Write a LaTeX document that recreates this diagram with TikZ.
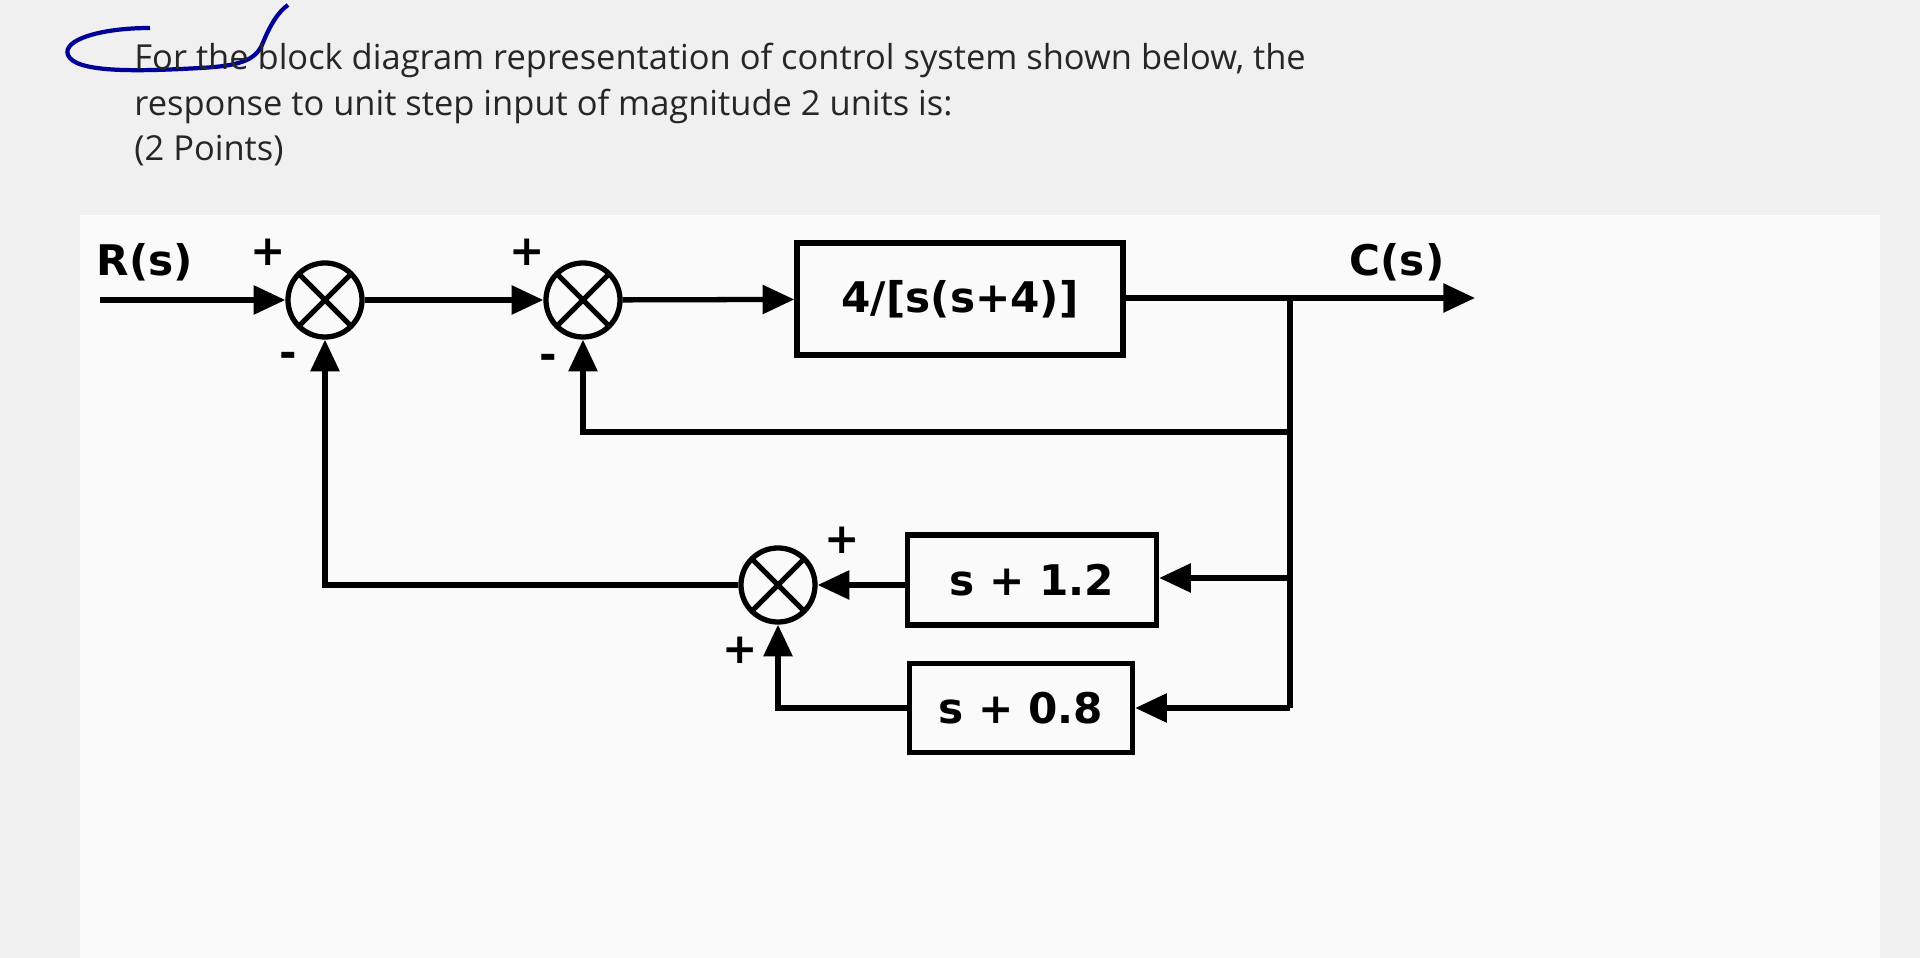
\documentclass[tikz,border=0pt]{standalone}
\usepackage{fontspec}
\setmainfont{Open Sans}
\newfontfamily\djfont{DejaVu Sans}
\usetikzlibrary{arrows.meta}
\begin{document}
\begin{tikzpicture}[x=0.01cm,y=-0.01cm,
  ln/.style={line width=1.5pt},
  ar/.style={ln,-{Triangle[length=9pt,width=8pt]}},
  sumj/.style={circle,draw,line width=1.5pt,minimum size=0.74cm,inner sep=0pt,path picture={
     \draw[line width=1.5pt] (path picture bounding box.north west)--(path picture bounding box.south east)
       (path picture bounding box.north east)--(path picture bounding box.south west);}},
  blk/.style={draw,line width=1.5pt,inner sep=0pt,font=\djfont\bfseries\fontsize{12}{14}\selectfont},
  lb/.style={font=\djfont\bfseries\fontsize{12}{14}\selectfont},
  sg/.style={font=\djfont\bfseries\fontsize{12}{14}\selectfont},
  q/.style={anchor=base west,font=\fontsize{9.8}{11}\selectfont,text=black!85}]
\fill[black!6] (0,0) rectangle (1920,958);
\fill[black!2] (80,215) rectangle (1880,958);
\draw[blue!60!black,line width=1.2pt] (150,28) .. controls (100,28) and (62,40) .. (68,55) .. controls (75,72) and (130,72) .. (200,68) .. controls (240,66) and (255,60) .. (262,45) .. controls (270,25) and (278,12) .. (288,5);
\node[q] (t1) at (122,70) {For the block diagram representation of control system shown below, the};
\node[q] (t2) at (122,116) {response to unit step input of magnitude 2 units is:};
\node[q] (t3) at (122,161) {(2 Points)};
\node[sumj] (s1) at (325,300) {};
\node[sumj] (s2) at (583,300) {};
\node[sumj] (s3) at (778,585) {};
\node[blk,minimum width=3.26cm,minimum height=1.12cm] (g) at (960,299) {4/[s(s+4)]};
\node[blk,minimum width=2.49cm,minimum height=0.9cm] (h1) at (1032,580) {s + 1.2};
\node[blk,minimum width=2.23cm,minimum height=0.89cm] (h2) at (1021,708) {s + 0.8};
\coordinate (in) at (100,300);
\coordinate (out) at (1475,298);
\coordinate (b) at (1290,298);
\coordinate (b1) at (1290,432);
\coordinate (b2) at (1290,578);
\coordinate (b3) at (1290,708);
\node[lb] (R) at (145,262) {R(s)};
\node[lb] (C) at (1397,262) {C(s)};
\node[sg] (p1) at (268,252) {+};
\node[sg] (m1) at (288,360) {-};
\node[sg] (p2) at (527,252) {+};
\node[sg] (m2) at (548,362) {-};
\node[sg] (p3) at (842,540) {+};
\node[sg] (p4) at (740,650) {+};
\draw[ar] (in)--(s1);
\draw[ar] (s1)--(s2);
\draw[ar] (s2)--(g);
\draw[ar] (g.east|-out)--(out);
\draw[ln] (b)--(b3);
\draw[ar] (b1)-|(s2);
\draw[ar] (b2)--(b2-|h1.east);
\draw[ar] (b3)--(h2);
\draw[ar] (h1.west|-s3)--(s3);
\draw[ar] (h2.west)-|(s3);
\draw[ar] (s3)-|(s1);
\end{tikzpicture}
\end{document}
